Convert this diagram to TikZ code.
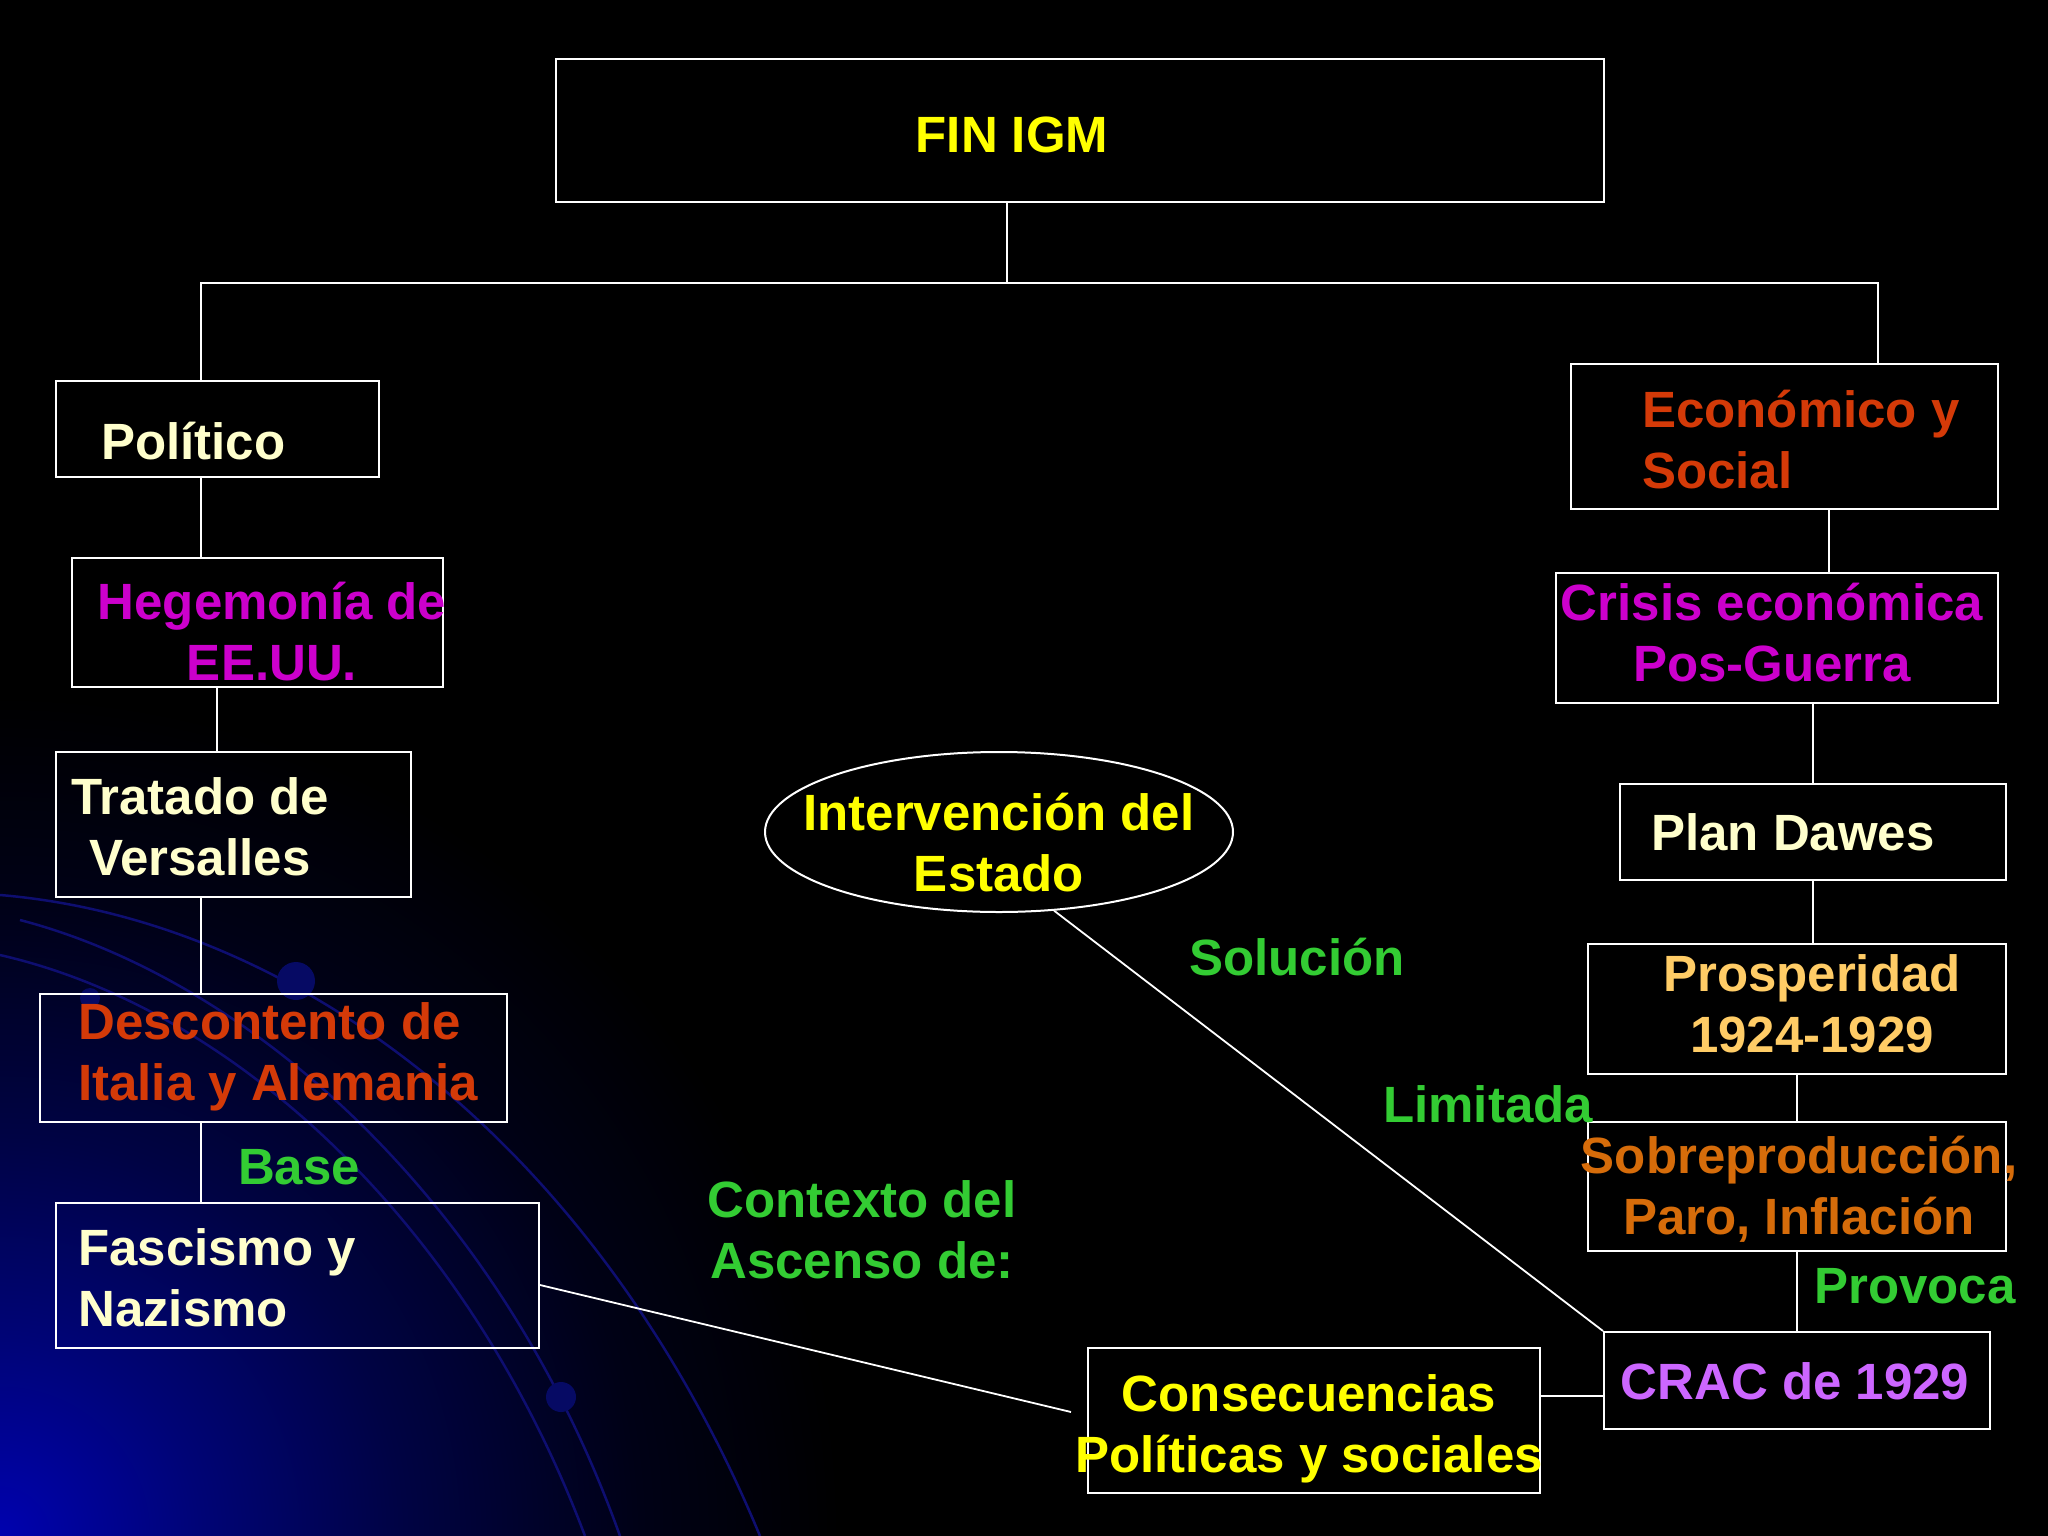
\documentclass[tikz,border=0pt]{standalone}
\usepackage{fontspec}
\setmainfont{Liberation Sans}
\usetikzlibrary{shapes.geometric}
\definecolor{cream}{RGB}{255,255,204}
\definecolor{ylw}{RGB}{255,255,0}
\definecolor{redor}{RGB}{212,58,8}
\definecolor{mag}{RGB}{204,0,204}
\definecolor{lorange}{RGB}{255,204,102}
\definecolor{orng}{RGB}{214,108,10}
\definecolor{lav}{RGB}{204,102,255}
\definecolor{grn}{RGB}{51,204,51}
\definecolor{bga}{RGB}{0,2,175}
\definecolor{bgb}{RGB}{0,4,118}
\definecolor{bgc}{RGB}{0,3,68}
\definecolor{bgd}{RGB}{0,1,22}
\definecolor{arcblue}{RGB}{14,14,112}
\definecolor{dotblue}{RGB}{6,10,100}
\pgfdeclareradialshading{cornerglow}{\pgfpoint{0bp}{0bp}}{%
  color(0bp)=(bga); color(5bp)=(bgb); color(10bp)=(bgc);
  color(16bp)=(bgd); color(21bp)=(black); color(25bp)=(black); color(50bp)=(black)}
\newcommand{\sr}{\rule[-12pt]{0pt}{60pt}}
\begin{document}
\begin{tikzpicture}[x=1pt,y=-1pt,
  box/.style={draw=white, line width=2pt, inner sep=0pt},
  lnk/.style={draw=white, line width=1.8pt},
  lbl/.style={font=\fontsize{51}{61}\selectfont\bfseries, inner sep=0pt},
  deco/.style={draw=arcblue, line width=2.5pt},
  dotb/.style={fill=dotblue}
]
\useasboundingbox (0,0) rectangle (2048,1536);
\fill[black] (0,0) rectangle (2048,1536);
\begin{scope}
  \clip (0,0) rectangle (2048,1536);
  \shade[shading=cornerglow] (0,1536) circle (1000);
  \draw[deco] (0,895) .. controls (300,920) and (600,1150) .. (760,1536);
  \draw[deco] (20,920) .. controls (250,980) and (500,1200) .. (620,1536);
  \draw[deco] (0,955) .. controls (240,1010) and (470,1230) .. (585,1536);
  \fill[dotb] (296,981) circle (19);
  \fill[dotb] (561,1397) circle (15);
  \fill[dotb] (90,998) circle (10);
\end{scope}

% boxes
\node[box, minimum width=1048pt, minimum height=143pt] (fin) at (1080,130.5) {};
\node[box, minimum width=323pt, minimum height=96pt] (pol) at (217.5,429) {};
\node[box, minimum width=371pt, minimum height=129pt] (heg) at (257.5,622.5) {};
\node[box, minimum width=355pt, minimum height=145pt] (tra) at (233.5,824.5) {};
\node[box, minimum width=467pt, minimum height=128pt] (des) at (273.5,1058) {};
\node[box, minimum width=483pt, minimum height=145pt] (fas) at (297.5,1275.5) {};
\node[box, minimum width=452pt, minimum height=145pt] (con) at (1314,1420.5) {};
\node[box, minimum width=386pt, minimum height=97pt] (crac) at (1797,1380.5) {};
\node[box, minimum width=427pt, minimum height=145pt] (eco) at (1784.5,436.5) {};
\node[box, minimum width=442pt, minimum height=130pt] (cri) at (1777,638) {};
\node[box, minimum width=386pt, minimum height=96pt] (pla) at (1813,832) {};
\node[box, minimum width=418pt, minimum height=130pt] (pro) at (1797,1009) {};
\node[box, minimum width=418pt, minimum height=129pt] (sob) at (1797,1186.5) {};
\node[box, ellipse, minimum width=468pt, minimum height=160pt] (est) at (999,832) {};

% connectors
\coordinate (jt) at (1007,283);
\coordinate (jl) at (201,283);
\coordinate (jr) at (1878,283);
\coordinate (xh) at (217,0);
\coordinate (yf) at (0,1285);
\coordinate (ce) at (1071,1412);
\coordinate (yc) at (0,1396);
\coordinate (xe) at (1829,0);
\coordinate (xc) at (1813,0);
\coordinate (xp) at (1797,0);
\draw[lnk] (jt |- fin.south) -- (jt);
\draw[lnk] (jl |- pol.north) -- (jl) -- (jr) -- (jr |- eco.north);
\draw[lnk] (jl |- pol.south) -- (jl |- heg.north);
\draw[lnk] (xh |- heg.south) -- (xh |- tra.north);
\draw[lnk] (jl |- tra.south) -- (jl |- des.north);
\draw[lnk] (jl |- des.south) -- (jl |- fas.north);
\draw[lnk] (fas.east |- yf) -- (ce);
\draw[lnk] (con.east |- yc) -- (crac.west |- yc);
\draw[lnk] (est.-55) -- (crac.north west);
\draw[lnk] (xe |- eco.south) -- (xe |- cri.north);
\draw[lnk] (xc |- cri.south) -- (xc |- pla.north);
\draw[lnk] (xc |- pla.south) -- (xc |- pro.north);
\draw[lnk] (xp |- pro.south) -- (xp |- sob.north);
\draw[lnk] (xp |- sob.south) -- (xp |- crac.north);

% texts
\node[lbl, text=ylw] (tfin) at (1012,135) {\sr FIN IGM};
\node[lbl, text=cream, anchor=west] (tpol) at (101,441) {\sr Político};
\node[lbl, text=mag, align=center] (theg) at (272,632) {\sr Hegemonía de\\\sr EE.UU.};
\node[lbl, text=cream, align=left, anchor=west] (ttra) at (71,827) {\sr Tratado de\\\sr\hspace*{18pt}Versalles};
\node[lbl, text=redor, align=left, anchor=west] (tdes) at (78,1052) {\sr Descontento de\\\sr Italia y Alemania};
\node[lbl, text=grn] (tbase) at (299,1166) {\sr Base};
\node[lbl, text=cream, align=left, anchor=west] (tfas) at (78,1278) {\sr Fascismo y\\\sr Nazismo};
\node[lbl, text=grn, align=center] (tctx) at (862,1230) {\sr Contexto del\\\sr Ascenso de:};
\node[lbl, text=ylw, align=center] (tcon) at (1309,1424) {\sr Consecuencias\\\sr Políticas y sociales};
\node[lbl, text=lav] (tcrac) at (1795,1381) {\sr CRAC de 1929};
\node[lbl, text=ylw, align=center] (test) at (999,843) {\sr Intervención del\\\sr Estado};
\node[lbl, text=grn] (tsol) at (1297,957) {\sr Solución};
\node[lbl, text=grn] (tlim) at (1488,1104) {\sr Limitada};
\node[lbl, text=redor, align=left, anchor=west] (teco) at (1642,440) {\sr Económico y\\\sr Social};
\node[lbl, text=mag, align=center] (tcri) at (1772,633) {\sr Crisis económica\\\sr Pos-Guerra};
\node[lbl, text=cream] (tpla) at (1793,832) {\sr Plan Dawes};
\node[lbl, text=lorange, align=center] (tpro) at (1812,1004) {\sr Prosperidad\\\sr 1924-1929};
\node[lbl, text=orng, align=center] (tsob) at (1799,1186) {\sr Sobreproducción,\\\sr Paro, Inflación};
\node[lbl, text=grn] (tprov) at (1915,1285) {\sr Provoca};
\end{tikzpicture}
\end{document}
